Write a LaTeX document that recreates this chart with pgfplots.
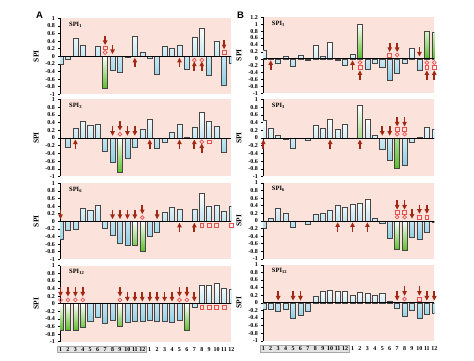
\documentclass[border=0pt]{standalone}
\usepackage{fontspec}
\setmainfont{Liberation Serif}
\newfontfamily\arialf{Liberation Sans}
\usepackage{pgfplots}
\pgfplotsset{compat=1.18}

\definecolor{pinkbg}{RGB}{251,227,219}
\definecolor{barblue}{RGB}{140,205,228}
\definecolor{bargreen}{RGB}{92,190,40}
\definecolor{edgec}{RGB}{70,70,70}
\definecolor{arrowc}{RGB}{160,40,20}
\definecolor{markc}{RGB}{232,80,80}

\pgfdeclareplotmark{darr}{%
 \begin{pgfscope}%
 \pgfpathmoveto{\pgfqpoint{0pt}{4.6pt}}%
 \pgfpathlineto{\pgfqpoint{0pt}{-0.5pt}}%
 \pgfsetlinewidth{1.7pt}%
 \pgfusepathqstroke
 \pgfpathmoveto{\pgfqpoint{-2.4pt}{0pt}}%
 \pgfpathlineto{\pgfqpoint{2.4pt}{0pt}}%
 \pgfpathlineto{\pgfqpoint{0pt}{-4.6pt}}%
 \pgfpathclose
 \pgfusepathqfill
 \end{pgfscope}%
}
\pgfdeclareplotmark{uarr}{%
 \begin{pgfscope}%
 \pgfpathmoveto{\pgfqpoint{0pt}{-4.6pt}}%
 \pgfpathlineto{\pgfqpoint{0pt}{0.5pt}}%
 \pgfsetlinewidth{1.7pt}%
 \pgfusepathqstroke
 \pgfpathmoveto{\pgfqpoint{-2.4pt}{0pt}}%
 \pgfpathlineto{\pgfqpoint{2.4pt}{0pt}}%
 \pgfpathlineto{\pgfqpoint{0pt}{4.6pt}}%
 \pgfpathclose
 \pgfusepathqfill
 \end{pgfscope}%
}

\tikzset{ttl/.style={anchor=west, font=\fontsize{6.5}{7}\selectfont\bfseries}}

\pgfplotsset{
 spi/.style={scale only axis, width=171pt, height=76pt,
  xmin=1, xmax=24, ymin=-1, ymax=1,
  axis background/.style={fill=pinkbg},
  axis y line*=left, axis x line*=bottom,
  x axis line style={draw=none},
  y axis line style={line width=0.7pt, black},
  xtick=\empty,
  ytick={-1,-0.8,-0.6,-0.4,-0.2,0,0.2,0.4,0.6,0.8,1},
  tick align=outside, major tick length=2pt,
  ytick style={line width=0.5pt, black},
  xtick style={draw=none},
  tick label style={font=\fontsize{6}{6}\selectfont\bfseries},
  /pgf/number format/assume math mode=true,
  ylabel={SPI}, ylabel style={font=\fontsize{7.5}{8}\selectfont\bfseries},
  clip mode=individual,
  anchor=north west,
 },
 bottomx/.style={xtick={1,2,3,4,5,6,7,8,9,10,11,12,13,14,15,16,17,18,19,20,21,22,23,24},
  xticklabels={1,2,3,4,5,6,7,8,9,10,11,12,1,2,3,4,5,6,7,8,9,10,11,12},
  xticklabel style={yshift=-0.5pt}},
 bblue/.style={ybar, bar width=0.68, bar shift=0pt, draw=edgec, line width=0.5pt, top color=white, bottom color=barblue},
 bgreen/.style={ybar, bar width=0.68, bar shift=0pt, draw=edgec, line width=0.5pt, top color=white, bottom color=bargreen},
 zl/.style={black, line width=0.8pt, no marks},
 dar/.style={only marks, mark=darr, color=arrowc},
 uar/.style={only marks, mark=uarr, color=arrowc},
 sqm/.style={only marks, mark=square, mark size=1.9pt, color=markc, mark options={line width=0.7pt, fill=none}},
 cim/.style={only marks, mark=o, mark size=1.9pt, color=markc, mark options={line width=0.7pt, fill=none}},
}

\begin{document}
\begin{tikzpicture}
\path[use as bounding box] (0,0) rectangle (474pt,-361pt);
% grey boxes behind first-year month labels
\fill[gray!22, draw=gray!70, line width=0.4pt] (57.2pt,-346.2pt) rectangle (145.8pt,-352.6pt);
\fill[gray!22, draw=gray!70, line width=0.4pt] (260.2pt,-345.6pt) rectangle (348.8pt,-352pt);

%================ A1
\begin{axis}[spi, at={(60.5pt,-18.3pt)}]
\addplot[bblue] coordinates {(1,-0.22)(2,-0.07)(3,0.47)(4,0.30)(6,0.27)(8,-0.37)(9,-0.42)(10,-0.03)(11,0.52)(12,0.11)(13,-0.05)(14,-0.47)(15,0.27)(16,0.21)(17,0.29)(18,-0.34)(19,0.50)(20,0.74)(21,-0.50)(22,0.39)(23,-0.77)(24,-0.18)};
\addplot[bgreen] coordinates {(7,-0.83)};
\addplot[zl] coordinates {(1,0)(24,0)};
\addplot[dar] coordinates {(8,0.18)(7,0.42)(23,0.31)};
\addplot[uar] coordinates {(11,-0.16)(17,-0.16)(19,-0.26)(20,-0.26)};
\addplot[sqm] coordinates {(7,0.22)(23,0.1)};
\addplot[cim] coordinates {(7,0.1)(19,-0.1)(20,-0.1)};
\node[ttl] at (rel axis cs:0.03,0.92) {SPI\textsubscript{1}};
\end{axis}

%================ A2
\begin{axis}[spi, at={(60.5pt,-99.5pt)}, height=77pt]
\addplot[bblue] coordinates {(2,-0.25)(3,0.26)(4,0.44)(5,0.34)(6,0.35)(7,-0.35)(8,-0.63)(10,-0.53)(11,-0.23)(12,0.24)(13,0.48)(14,-0.26)(15,-0.10)(16,0.16)(17,0.35)(18,0.03)(19,0.29)(20,0.66)(21,0.43)(22,0.30)(23,-0.37)};
\addplot[bgreen] coordinates {(9,-0.90)};
\addplot[zl] coordinates {(1,0)(24,0)};
\addplot[dar] coordinates {(8,0.18)(10,0.18)(11,0.18)(9,0.31)};
\addplot[uar] coordinates {(3,-0.16)(13,-0.16)(17,-0.16)(19,-0.16)(20,-0.26)};
\addplot[sqm] coordinates {(21,-0.1)};
\addplot[cim] coordinates {(9,0.1)(20,-0.1)};
\node[ttl] at (rel axis cs:0.03,0.92) {SPI\textsubscript{3}};
\end{axis}

%================ A3
\begin{axis}[spi, at={(60.5pt,-183.3pt)}]
\addplot[bblue] coordinates {(1,-0.48)(2,-0.24)(3,-0.21)(4,0.34)(5,0.30)(6,0.42)(7,-0.18)(8,-0.36)(9,-0.59)(10,-0.64)(13,-0.39)(14,-0.28)(15,0.24)(16,0.38)(17,0.32)(18,0.01)(19,0.32)(20,0.74)(21,0.40)(22,0.43)(23,0.27)(24,0.40)};
\addplot[bgreen] coordinates {(11,-0.62)(12,-0.78)};
\addplot[zl] coordinates {(1,0)(24,0)};
\addplot[dar] coordinates {(1,0.18)(8,0.18)(9,0.18)(10,0.18)(11,0.18)(14,0.18)(12,0.31)};
\addplot[uar] coordinates {(17,-0.16)(19,-0.16)};
\addplot[sqm] coordinates {(20,-0.1)(21,-0.1)(22,-0.1)(24,-0.1)};
\addplot[cim] coordinates {(12,0.1)};
\node[ttl] at (rel axis cs:0.03,0.92) {SPI\textsubscript{6}};
\end{axis}

%================ A4
\begin{axis}[spi, bottomx, at={(60.5pt,-265.7pt)}]
\addplot[bblue] coordinates {(5,-0.46)(6,-0.35)(7,-0.52)(8,-0.43)(10,-0.48)(11,-0.45)(12,-0.45)(13,-0.43)(14,-0.45)(15,-0.46)(16,-0.48)(17,-0.43)(19,-0.09)(20,0.49)(21,0.49)(22,0.54)(23,0.40)(24,0.38)};
\addplot[bgreen] coordinates {(1,-0.71)(2,-0.70)(3,-0.70)(4,-0.63)(9,-0.60)(18,-0.70)};
\addplot[zl] coordinates {(1,0)(24,0)};
\addplot[dar] coordinates {(10,0.18)(11,0.18)(12,0.18)(13,0.18)(14,0.18)(15,0.18)(16,0.18)(19,0.18)(1,0.31)(2,0.31)(3,0.31)(4,0.31)(9,0.31)(17,0.31)(18,0.31)};
\addplot[sqm] coordinates {(20,-0.1)(21,-0.1)(22,-0.1)(23,-0.1)};
\addplot[cim] coordinates {(1,0.1)(2,0.1)(3,0.1)(4,0.1)(9,0.1)(17,0.1)(18,0.1)};
\node[ttl] at (rel axis cs:0.03,0.92) {SPI\textsubscript{12}};
\end{axis}

%================ B1
\begin{axis}[spi, at={(263.3pt,-17.3pt)}, ymax=1.2,
  ytick={-1,-0.8,-0.6,-0.4,-0.2,0,0.2,0.4,0.6,0.8,1,1.2}]
\addplot[bblue] coordinates {(1,0.26)(2,0.02)(3,-0.12)(4,0.07)(5,-0.21)(6,0.11)(7,-0.05)(8,0.40)(9,0.06)(10,0.48)(11,-0.05)(12,-0.20)(13,0.14)(15,-0.29)(16,-0.14)(17,-0.25)(18,-0.63)(19,-0.41)(20,-0.14)(21,0.29)(22,-0.34)};
\addplot[bgreen] coordinates {(14,1.00)(23,0.80)(24,0.76)};
\addplot[zl] coordinates {(1,0)(24,0)};
\addplot[dar] coordinates {(22,0.2)(18,0.33)(19,0.33)};
\addplot[uar] coordinates {(2,-0.18)(13,-0.18)(14,-0.47)(23,-0.47)(24,-0.47)};
\addplot[sqm] coordinates {(18,0.11)(14,-0.24)(23,-0.24)(24,-0.24)};
\addplot[cim] coordinates {(19,0.11)(14,-0.11)(23,-0.11)(24,-0.11)};
\node[ttl] at (rel axis cs:0.03,0.92) {SPI\textsubscript{1}};
\end{axis}

%================ B2
\begin{axis}[spi, at={(263.3pt,-99.5pt)}, height=77pt]
\addplot[bblue] coordinates {(1,0.46)(2,0.26)(3,0.07)(4,-0.03)(5,-0.26)(7,-0.07)(8,0.34)(9,0.25)(10,0.48)(11,0.22)(12,0.37)(15,0.49)(16,0.08)(17,-0.29)(18,-0.57)(20,-0.71)(21,-0.11)(22,0.01)(23,0.28)(24,0.22)};
\addplot[bgreen] coordinates {(14,0.86)(19,-0.78)};
\addplot[zl] coordinates {(1,0)(24,0)};
\addplot[dar] coordinates {(17,0.18)(18,0.18)(19,0.42)(20,0.42)};
\addplot[uar] coordinates {(1,-0.16)(10,-0.16)(14,-0.16)};
\addplot[sqm] coordinates {(19,0.22)(20,0.22)};
\addplot[cim] coordinates {(19,0.1)(20,0.1)};
\node[ttl] at (rel axis cs:0.03,0.92) {SPI\textsubscript{3}};
\end{axis}

%================ B3
\begin{axis}[spi, at={(263.3pt,-182.9pt)}]
\addplot[bblue] coordinates {(1,-0.19)(2,0.06)(3,0.33)(4,0.20)(5,-0.17)(7,-0.10)(8,0.17)(9,0.20)(10,0.29)(11,0.42)(12,0.37)(13,0.43)(14,0.46)(15,0.56)(16,0.07)(17,-0.05)(18,-0.46)(21,-0.43)(22,-0.48)(23,-0.30)(24,-0.03)};
\addplot[bgreen] coordinates {(19,-0.74)(20,-0.77)};
\addplot[zl] coordinates {(1,0)(24,0)};
\addplot[dar] coordinates {(21,0.18)(22,0.31)(23,0.31)(19,0.42)(20,0.42)};
\addplot[uar] coordinates {(11,-0.16)(13,-0.16)(15,-0.16)};
\addplot[sqm] coordinates {(22,0.1)(23,0.1)(19,0.22)(20,0.22)};
\addplot[cim] coordinates {(19,0.1)(20,0.1)};
\node[ttl] at (rel axis cs:0.03,0.92) {SPI\textsubscript{6}};
\end{axis}

%================ B4
\begin{axis}[spi, bottomx, at={(263.3pt,-264.8pt)}]
\addplot[bblue] coordinates {(1,-0.16)(2,-0.17)(3,-0.23)(4,-0.17)(5,-0.40)(6,-0.32)(7,-0.23)(8,0.18)(9,0.30)(10,0.34)(11,0.31)(12,0.30)(13,0.20)(14,0.27)(15,0.26)(16,0.21)(17,0.26)(18,0.04)(19,-0.14)(20,-0.36)(21,-0.19)(22,-0.40)(23,-0.29)(24,-0.27)};
\addplot[zl] coordinates {(1,0)(24,0)};
\addplot[dar] coordinates {(3,0.18)(5,0.18)(6,0.18)(19,0.18)(23,0.18)(24,0.18)(20,0.31)(22,0.31)};
\addplot[sqm] coordinates {(22,0.1)};
\addplot[cim] coordinates {(20,0.1)};
\node[ttl] at (rel axis cs:0.03,0.92) {SPI\textsubscript{12}};
\end{axis}

\node[font=\arialf\bfseries\fontsize{9.5}{10}\selectfont] at (39.5pt,-15pt) {A};
\node[font=\arialf\bfseries\fontsize{9.5}{10}\selectfont] at (240.5pt,-15pt) {B};
\end{tikzpicture}
\end{document}
